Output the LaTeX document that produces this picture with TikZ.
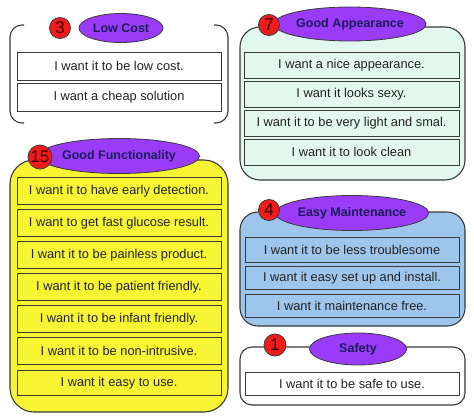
\documentclass[tikz,border=0pt]{standalone}
\usepackage{fontspec}
\setmainfont{Liberation Sans}
\usetikzlibrary{shapes.geometric}
\definecolor{lineC}{HTML}{3A3A3A}
\definecolor{greenF}{HTML}{E2F8EE}
\definecolor{yellowF}{HTML}{F7F533}
\definecolor{blueF}{HTML}{9EC5EC}
\definecolor{purpleF}{HTML}{9A3CF7}
\definecolor{redF}{HTML}{F21B1B}
\definecolor{headT}{HTML}{1E1B5E}
\definecolor{txtC}{HTML}{222222}
\tikzset{
  frame/.style={draw=lineC, line width=1.1pt},
  ibox/.style={draw=lineC, line width=1pt, rectangle, inner sep=0pt, text=txtC,
    font=\fontsize{12.8}{14}\selectfont},
  head/.style={draw=lineC, line width=0.8pt, ellipse, fill=purpleF, inner sep=0pt,
    text=headT, font=\bfseries\fontsize{12.5}{14}\selectfont},
  num/.style={draw=lineC, line width=0.8pt, circle, fill=redF, inner sep=0pt,
    text=black!80!red, font=\fontsize{17}{19}\selectfont},
}
\begin{document}
\begin{tikzpicture}[x=1pt,y=-1pt]
\useasboundingbox[fill=white] (0,0) rectangle (474,418);

% ---------- Low Cost ----------
\draw[frame, rounded corners=12pt] (24,25) -- (10,25) -- (10,123) -- (24,123);
\draw[frame, rounded corners=12pt] (214,25) -- (228,25) -- (228,123) -- (214,123);
\node[head, minimum width=84pt, minimum height=29pt] (hlc) at (121,28) {Low Cost};
\node[num, minimum size=21pt] (nlc) at (60,28) {3};
\node[ibox, minimum width=204pt, minimum height=28pt] (lc1) at (119,66) {I want it to be low cost.};
\node[ibox, minimum width=204pt, minimum height=28pt] (lc2) at (119,97.5) {I want a cheap solution};

% ---------- Good Appearance ----------
\draw[frame, fill=greenF, rounded corners=20pt] (240,27) rectangle (465,180);
\node[head, minimum width=130pt, minimum height=34pt] (hga) at (350,24) {Good Appearance};
\node[num, minimum size=21pt] (nga) at (269,25) {7};
\node[ibox, minimum width=215pt, minimum height=26pt] (ga1) at (351.5,65) {I want a nice appearance.};
\node[ibox, minimum width=215pt, minimum height=26pt] (ga2) at (351.5,94) {I want it looks sexy.};
\node[ibox, minimum width=215pt, minimum height=26pt] (ga3) at (351.5,123) {I want it to be very light and smal.};
\node[ibox, minimum width=215pt, minimum height=26pt] (ga4) at (351.5,152) {I want it to look clean};

% ---------- Good Functionality ----------
\draw[frame, fill=yellowF, rounded corners=24pt] (10,160) rectangle (228,412);
\node[head, minimum width=132pt, minimum height=35pt] (hgf) at (119,156) {Good Functionality};
\node[num, minimum size=24pt] (ngf) at (40,157) {15};
\node[ibox, minimum width=204pt, minimum height=27pt] (gf1) at (119,191) {I want it to have early detection.};
\node[ibox, minimum width=204pt, minimum height=27pt] (gf2) at (119,223) {I want to get fast glucose result.};
\node[ibox, minimum width=204pt, minimum height=27pt] (gf3) at (119,255) {I want it to be painless product.};
\node[ibox, minimum width=204pt, minimum height=27pt] (gf4) at (119,287) {I want it to be patient friendly.};
\node[ibox, minimum width=204pt, minimum height=27pt] (gf5) at (119,319) {I want it to be infant friendly.};
\node[ibox, minimum width=204pt, minimum height=27pt] (gf6) at (119,351) {I want it to be non-intrusive.};
\node[ibox, minimum width=204pt, minimum height=25pt] (gf7) at (119,383) {I want it easy to use.};

% ---------- Easy Maintenance ----------
\draw[frame, fill=blueF, rounded corners=18pt] (240,212) rectangle (465,326);
\node[head, minimum width=136pt, minimum height=35pt] (hem) at (352,213) {Easy Maintenance};
\node[num, minimum size=21pt] (nem) at (269,210) {4};
\node[ibox, minimum width=214pt, minimum height=25pt] (em1) at (352,250) {I want it to be less troublesome};
\node[ibox, minimum width=214pt, minimum height=23pt] (em2) at (352,278) {I want it easy set up and install.};
\node[ibox, minimum width=214pt, minimum height=23pt] (em3) at (352,306) {I want it maintenance free.};

% ---------- Safety ----------
\draw[frame, fill=white, rounded corners=12pt] (240,347) rectangle (465,405);
\node[head, minimum width=97pt, minimum height=32pt] (hsf) at (358,349) {Safety};
\node[num, minimum size=22pt] (nsf) at (275,345) {1};
\node[ibox, minimum width=214pt, minimum height=23pt] (sf1) at (352,383.5) {I want it to be safe to use.};
\end{tikzpicture}
\end{document}
